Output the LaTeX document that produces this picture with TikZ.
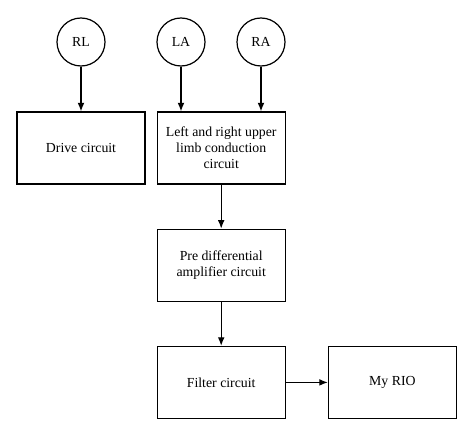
\documentclass[tikz,border=0pt]{standalone}
\usepackage{fontspec}
\setmainfont{Liberation Serif}
\usetikzlibrary{arrows.meta,positioning}

\begin{document}
\begin{tikzpicture}[x=1pt,y=-1pt]
	\useasboundingbox (0,0) rectangle (474,436);
	\begin{scope}[every node/.style={draw,line width=1.2pt,font=\fontsize{13.8}{16}\selectfont}]
		\node[rectangle,minimum width=128pt,minimum height=72pt] (drive) at (81,148) {Drive circuit};
		\node[rectangle,minimum width=128pt,minimum height=72pt,align=center,right =11pt of drive] (limb) {Left and right upper\\ limb conduction\\ circuit};
		\node[rectangle,minimum width=128pt,minimum height=72pt,align=center,below =44pt of limb] (pre) {Pre differential\\ amplifier circuit};
		\node[rectangle,minimum width=128pt,minimum height=72pt,below =44pt of pre] (filter) {Filter circuit};
		\node[rectangle,minimum width=128pt,minimum height=72pt,right =42pt of filter] (myrio) {My RIO};
		\node[circle,minimum size=48pt,inner sep=0pt] (RL) at (81,42) {RL};
		\node[circle,minimum size=48pt,inner sep=0pt] (LA) at (181,42) {LA};
		\node[circle,minimum size=48pt,inner sep=0pt] (RA) at (261,42) {RA};
	\end{scope}

	\begin{scope}[line width=1.2pt]
	\draw[-{Latex[length=3mm,width=2.4mm]}] (RL) -- (drive);
	\draw[-{Latex[length=3mm,width=2.4mm]}] (LA) -- (LA|-limb.north);
	\draw[-{Latex[length=3mm,width=2.4mm]}] (RA) -- (RA|-limb.north);
	\draw[-{Latex[length=3mm,width=2.4mm]}] (limb) -- (pre);
	\draw[-{Latex[length=3mm,width=2.4mm]}] (pre) -- (filter);
	\draw[-{Latex[length=3mm,width=2.4mm]}] (filter) -- (myrio);
	\end{scope}
\end{tikzpicture}
\end{document}
